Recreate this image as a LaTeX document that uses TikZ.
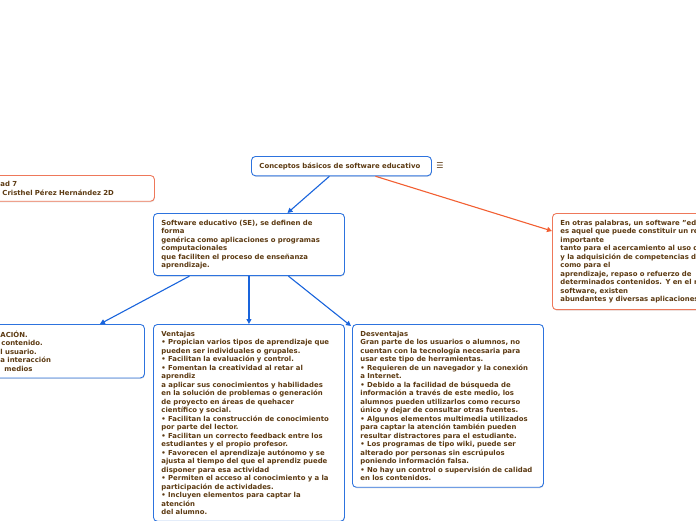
\documentclass[tikz,border=0pt]{standalone}
\usepackage{fontspec}
\setmainfont{DejaVu Sans}
\usetikzlibrary{arrows.meta,shadows}
\definecolor{txt}{RGB}{92,58,18}
\definecolor{bl}{RGB}{45,115,222}
\definecolor{ar}{RGB}{25,100,220}
\definecolor{orb}{RGB}{238,120,90}
\definecolor{ora}{RGB}{242,95,50}
\begin{document}
\begin{tikzpicture}[x=1pt,y=-1pt,
 box/.style={draw=bl, line width=0.9pt, rounded corners=4pt, fill=white, anchor=north west, align=left, inner xsep=8pt, inner ysep=6.5pt, font=\fontsize{6.9}{8.5}\selectfont\bfseries, text=txt, drop shadow={shadow xshift=0.5pt, shadow yshift=-1pt, opacity=0.2}},
 obox/.style={box, draw=orb},
 conn/.style={draw=ar, line width=1.1pt, -{Triangle[width=5pt,length=5pt]}},
 oconn/.style={conn, draw=ora}]
\useasboundingbox (0,0) rectangle (696,520);
\clip (0,0) rectangle (696,520);
\node[box, text width=164pt, inner ysep=6.2pt] (root) at (251,156) {Conceptos básicos de software educativo};
\node[text=txt, font=\fontsize{8}{8}\selectfont, inner sep=0pt] (menu) at (440,165.5) {☰};
\node[obox, inner xsep=10pt, text width=144pt, inner ysep=6pt] (lt) at (-10,175) {ad 7\\\hspace*{2pt}Cristhel Pérez Hernández 2D};
\node[box, text width=175pt] (se) at (153,213) {Software educativo (SE), se definen de\\forma\\genérica como aplicaciones o programas\\computacionales\\que faciliten el proceso de enseñanza\\aprendizaje.};
\node[obox, text width=200pt] (right) at (552,213) {En otras palabras, un software "ed\\es aquel que puede constituir un re\\importante\\tanto para el acercamiento al uso d\\y la adquisición de competencias d\\como para el\\aprendizaje, repaso o refuerzo de\\determinados contenidos. Y en el r\\software, existen\\abundantes y diversas aplicaciones};
\node[box, inner xsep=10pt, text width=134pt] (lb) at (-10,324) {ACIÓN.\\\hspace*{1pt}contenido.\\l usuario.\\a interacción\\\hspace*{4pt}medios};
\node[box, text width=175pt] (vent) at (153,324) {Ventajas\\• Propician varios tipos de aprendizaje que\\pueden ser individuales o grupales.\\• Facilitan la evaluación y control.\\• Fomentan la creatividad al retar al\\aprendiz\\a aplicar sus conocimientos y habilidades\\en la solución de problemas o generación\\de proyecto en áreas de quehacer\\científico y social.\\• Facilitan la construcción de conocimiento\\por parte del lector.\\• Facilitan un correcto feedback entre los\\estudiantes y el propio profesor.\\• Favorecen el aprendizaje autónomo y se\\ajusta al tiempo del que el aprendiz puede\\disponer para esa actividad\\• Permiten el acceso al conocimiento y a la\\participación de actividades.\\• Incluyen elementos para captar la\\atención\\del alumno.};
\node[box, text width=175pt] (desv) at (352,324) {Desventajas\\Gran parte de los usuarios o alumnos, no\\cuentan con la tecnología necesaria para\\usar este tipo de herramientas.\\• Requieren de un navegador y la conexión\\a Internet.\\• Debido a la facilidad de búsqueda de\\información a través de este medio, los\\alumnos pueden utilizarlos como recurso\\único y dejar de consultar otras fuentes.\\• Algunos elementos multimedia utilizados\\para captar la atención también pueden\\resultar distractores para el estudiante.\\• Los programas de tipo wiki, puede ser\\alterado por personas sin escrúpulos\\poniendo información falsa.\\• No hay un control o supervisión de calidad\\en los contenidos.};
\draw[conn] ([xshift=-12pt]root.south) -- ([xshift=38.5pt]se.north);
\draw[oconn] ([xshift=34pt]root.south) -- ([yshift=-18pt]right.north west);
\draw[conn] ([xshift=-59.5pt]se.south) -- ([xshift=-45pt]lb.north east);
\draw[conn] (se.south) -- (vent.north);
\draw[conn] ([xshift=39.5pt]se.south) -- ([xshift=-1pt,yshift=-2pt]desv.north west);
\end{tikzpicture}
\end{document}
